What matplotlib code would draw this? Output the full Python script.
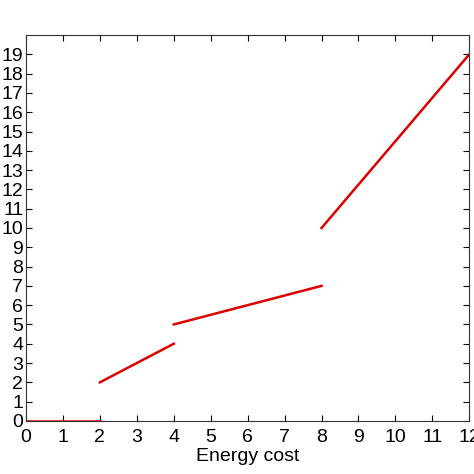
import matplotlib
matplotlib.use("Agg")
import matplotlib.pyplot as plt

# Segments of the piecewise cost curve
seg_x = [[0, 2], [2, 4], [4, 8], [8, 12]]
seg_y = [[0, 0], [2, 4], [5, 7], [10, 19]]

x_ticks = list(range(0, 13))
y_ticks = list(range(0, 20))

plt.rcParams['font.family'] = ['Liberation Sans', 'DejaVu Sans']

fig = plt.figure(figsize=(4.74, 4.74), dpi=100)
ax = fig.add_axes([0.055, 0.112, 0.935, 0.814])

for xs, ys in zip(seg_x, seg_y):
    ax.plot(xs, ys, color='#dd0000', linewidth=1.8)

ax.set_xlim(0, 12)
ax.set_ylim(0, 20)
ax.set_xticks(x_ticks)
ax.set_yticks(y_ticks)
ax.tick_params(direction='in', top=True, right=True, length=4, labelsize=14)
ax.tick_params(axis='x', pad=6)
ax.tick_params(axis='y', pad=2)
for s in ax.spines.values():
    s.set_color('#333333')
ax.set_xlabel("Energy cost", fontsize=14, labelpad=1)

fig.savefig("out.png", dpi=100)
